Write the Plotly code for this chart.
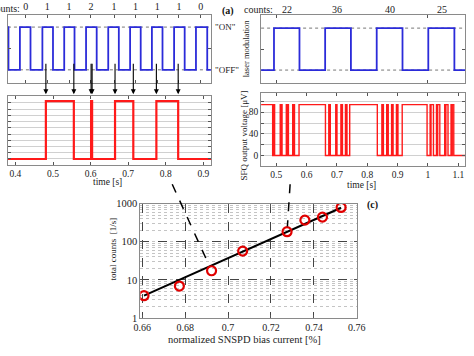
import math
import plotly.graph_objects as go

W, H = 474, 356
FONT = "Liberation Serif"

# ---------------- data ----------------
# (a) left: laser gating wave (top) and SFQ toggle output (bottom)
tl_rise = [0.3530, 0.4119, 0.4717, 0.5298, 0.5879, 0.6469, 0.7051, 0.7631, 0.8221, 0.8803]
tl_fall = [0.3815, 0.4401, 0.4999, 0.5572, 0.6162, 0.6751, 0.7333, 0.7913, 0.8503, 0.9103]
tl_count_t = [0.4272, 0.4846, 0.5426, 0.6008, 0.6624, 0.7195, 0.7776, 0.8349, 0.8931]
tl_counts = ["0", "1", "1", "2", "1", "1", "1", "1", "0"]

bl_edges = [0.4810, 0.5554, 0.6013, 0.6040, 0.6650, 0.7136, 0.7750, 0.8330]
bl_levels = [0, 93]

# (a) right: laser modulation (top) and SFQ output voltage (bottom)
tr_rise = [0.4924, 0.6610, 0.8310, 1.0010]
tr_fall = [0.5764, 0.7460, 0.9160, 1.0870]
tr_count_t = [0.535, 0.699, 0.874, 1.046]
tr_counts = ["22", "36", "40", "25"]

br_lows = [
    (0.488, 0.4925), (0.4945, 0.513), (0.515, 0.517), (0.519, 0.533), (0.5345, 0.536),
    (0.540, 0.554), (0.556, 0.558), (0.560, 0.575),
    (0.662, 0.673), (0.675, 0.676), (0.678, 0.696), (0.698, 0.699), (0.700, 0.713),
    (0.715, 0.716), (0.718, 0.728), (0.730, 0.731), (0.733, 0.742),
    (0.833, 0.848), (0.850, 0.851), (0.853, 0.864), (0.866, 0.867), (0.869, 0.880),
    (0.882, 0.883), (0.885, 0.896), (0.898, 0.899), (0.901, 0.915),
    (0.997, 1.007), (1.009, 1.010), (1.018, 1.028), (1.031, 1.032), (1.039, 1.055),
    (1.058, 1.059), (1.066, 1.076), (1.079, 1.080), (1.085, 1.125),
]
br_levels = [0, 94]

# (c) total counts vs bias
bias = [0.6608, 0.6773, 0.6923, 0.7068, 0.7275, 0.7358, 0.7440, 0.7527]
total_counts = [3.85, 6.9, 17.4, 57, 184, 370, 443, 795]
fit_bias = [0.6608, 0.7527]
fit_counts = [3.85, 780]


# ---------------- helpers ----------------
def square(rises, falls, t0, t1, lo, hi):
    ev = sorted([(t, hi) for t in rises] + [(t, lo) for t in falls])
    level = lo if ev[0][1] == hi else hi
    xs, ys = [t0], [level]
    for t, new in ev:
        xs += [t, t]
        ys += [level, new]
        level = new
    xs.append(t1)
    ys.append(level)
    return xs, ys


def toggles(edges, t0, t1, lo, hi):
    level = lo
    xs, ys = [t0], [level]
    for t in edges:
        new = hi if level == lo else lo
        xs += [t, t]
        ys += [level, new]
        level = new
    xs.append(t1)
    ys.append(level)
    return xs, ys


def lows(intervals, t0, t1, lo, hi):
    xs, ys = [t0], [hi]
    for a, b in intervals:
        xs += [a, a, b, b]
        ys += [hi, lo, lo, hi]
    xs.append(t1)
    ys.append(hi)
    return xs, ys


px = lambda v: v / W
py = lambda v: 1 - v / H

BLUE = "#2b2bd9"
RED = "#ff1a1a"
FRAME = "#8a8a8a"

fig = go.Figure()

x1, y1 = square(tl_rise, tl_fall, 0.37, 0.93, 0, 1)
fig.add_trace(go.Scatter(x=x1, y=y1, mode="lines", line=dict(color=BLUE, width=1.8),
                         xaxis="x", yaxis="y"))
x2, y2 = toggles(bl_edges, 0.37, 0.93, bl_levels[0], bl_levels[1])
fig.add_trace(go.Scatter(x=x2, y=y2, mode="lines", line=dict(color=RED, width=2.2),
                         xaxis="x2", yaxis="y2"))
x3, y3 = square(tr_rise, tr_fall, 0.44, 1.13, 0, 1)
fig.add_trace(go.Scatter(x=x3, y=y3, mode="lines", line=dict(color=BLUE, width=1.8),
                         xaxis="x3", yaxis="y3"))
x4, y4 = lows(br_lows, 0.44, 1.13, br_levels[0], br_levels[1])
fig.add_trace(go.Scatter(x=x4, y=y4, mode="lines", line=dict(color=RED, width=1.4),
                         xaxis="x4", yaxis="y4"))
fig.add_trace(go.Scatter(x=fit_bias, y=fit_counts, mode="lines", line=dict(color="black", width=2),
                         xaxis="x5", yaxis="y5"))
fig.add_trace(go.Scatter(x=bias, y=total_counts, mode="markers",
                         marker=dict(symbol="circle-open", size=9, color="#e00000", line=dict(width=2.2)),
                         xaxis="x5", yaxis="y5"))

tick_font = dict(family=FONT, size=9.5, color="#222")
common_ax = dict(showline=True, linecolor=FRAME, linewidth=1, mirror=True, zeroline=False,
                 ticks="inside", ticklen=3, tickcolor="#555", tickfont=tick_font)

dom_left = [0.002, px(211)]
dom_right = [px(263), 1.0]
dom_top = [py(81), py(10)]
dom_c_x = [px(138), px(362)]
dom_c_y = [py(323), py(205)]
rng_c_x = [0.6591, 0.76]

fig.update_layout(
    width=W, height=H, margin=dict(l=0, r=0, t=0, b=0),
    paper_bgcolor="white", plot_bgcolor="white", showlegend=False,
    font=dict(family=FONT, size=10, color="#222"),
    xaxis=dict(common_ax, domain=dom_left, range=[0.38, 0.92], side="top", anchor="y",
               tickvals=tl_count_t, ticktext=tl_counts, showgrid=False, mirror="ticks",
               tickfont=dict(family=FONT, size=10, color="#222")),
    yaxis=dict(common_ax, domain=dom_top, range=[-0.32, 1.29], anchor="x",
               tickvals=[0.5], showticklabels=False, showgrid=False, mirror="ticks"),
    xaxis2=dict(common_ax, domain=dom_left, range=[0.38, 0.92], anchor="y2",
                tick0=0.4, dtick=0.1, showgrid=False, mirror="ticks"),
    yaxis2=dict(common_ax, domain=[py(165), py(94)], range=[-9.5, 101], anchor="x2",
                tick0=0, dtick=10, showticklabels=False, showgrid=True, gridcolor="#d0d0d0",
                gridwidth=1, mirror="ticks"),
    xaxis3=dict(common_ax, domain=dom_right, range=[0.45, 1.122], anchor="y3",
                tickvals=[0.5, 1.0], showticklabels=False, showgrid=False, mirror="ticks"),
    yaxis3=dict(common_ax, domain=dom_top, range=[-0.32, 1.32], anchor="x3",
                tickvals=[0.5], showticklabels=False, showgrid=False, mirror="ticks"),
    xaxis4=dict(common_ax, domain=dom_right, range=[0.45, 1.122], anchor="y4",
                tick0=0.5, dtick=0.1, showgrid=False, mirror="ticks"),
    yaxis4=dict(common_ax, domain=[py(166), py(91)], range=[-19, 115], anchor="x4",
                tickvals=[0, 20, 40, 60, 80, 100], ticktext=["0", "", "40", "", "80", ""],
                showgrid=True, gridcolor="#d0d0d0", mirror="ticks"),
    xaxis5=dict(common_ax, domain=dom_c_x, range=rng_c_x, anchor="y5",
                tick0=0.66, dtick=0.02, mirror="ticks",
                tickfont=dict(family=FONT, size=10, color="#222"),
                showgrid=True, gridcolor="#444", griddash="dash", gridwidth=1),
    yaxis5=dict(common_ax, domain=dom_c_y, type="log", range=[0, 3], anchor="x5",
                tickvals=[1, 10, 100, 1000], ticktext=["1", "10", "100", "1000"], mirror="ticks",
                tickfont=dict(family=FONT, size=10.5, color="#222"),
                showgrid=True, gridcolor="#444", griddash="dash", gridwidth=1,
                minor=dict(dtick="D1", showgrid=True, gridcolor="#c4c4c4", griddash="dot",
                           ticks="")),
)


def label(x, y, text, size=10, xref="paper", yref="paper", xanchor="center", angle=0, color="#222"):
    return dict(x=x, y=y, xref=xref, yref=yref, text=text, showarrow=False,
                xanchor=xanchor, yanchor="middle", textangle=angle,
                font=dict(family=FONT, size=size, color=color))


ann = []
ann.append(label(px(16), py(4), "counts:", xanchor="right"))
ann.append(label(px(277), py(5), "counts:", xanchor="right"))
for t, c in zip(tr_count_t, tr_counts):
    ann.append(label(t, py(5), c, xref="x3"))
ann.append(label(px(229), py(6), "<b>(a)</b>", color="#111"))
ann.append(label(px(378), py(206), "<b>(c)</b>", color="#111"))
ann.append(label(px(213), 1, '"ON"', size=9, yref="y", xanchor="left"))
ann.append(label(px(213), 0, '"OFF"', size=9, yref="y", xanchor="left"))
ann.append(label(px(247), py(45), "laser modulation", size=8.5, angle=-90))
ann.append(label(px(245), py(135), "SFQ output voltage [μV]", size=9, angle=-90))
ann.append(label(px(110), py(252), "total counts  [1/s]", size=9, angle=-90))
ann.append(label(px(104), py(183), "time [s]", size=9.5))
ann.append(label(px(367), py(186), "time [s]", size=9.5))
ann.append(label(px(246), py(345), "normalized SNSPD bias current [%]", size=10.5))
for t in bl_edges:
    ann.append(dict(x=t, y=py(92), xref="x2", yref="paper", text="", showarrow=True,
                    ax=0, ay=-32, arrowhead=2, arrowsize=0.9, arrowwidth=1.1, arrowcolor="black"))
fig.update_layout(annotations=ann)


def c_paper(xv, yv):
    fx = dom_c_x[0] + (xv - rng_c_x[0]) / (rng_c_x[1] - rng_c_x[0]) * (dom_c_x[1] - dom_c_x[0])
    fy = dom_c_y[0] + math.log10(yv) / 3 * (dom_c_y[1] - dom_c_y[0])
    return fx, fy


shapes = []
for (sx, sy), idx in [((171, 185), 2), ((293, 185), 4)]:
    ex, ey = c_paper(bias[idx], total_counts[idx])
    ex_px, ey_px = ex * W, (1 - ey) * H
    dx, dy = ex_px - sx, ey_px - sy
    d = math.hypot(dx, dy)
    ex_px -= dx / d * 5.5
    ey_px -= dy / d * 5.5
    shapes.append(dict(type="line", xref="paper", yref="paper", x0=px(sx), y0=py(sy),
                       x1=px(ex_px), y1=py(ey_px), line=dict(color="black", width=1.5, dash="dash")))
for yr in ["y", "y3"]:
    for lv in [0, 1]:
        shapes.append(dict(type="line", xref=("x domain" if yr == "y" else "x3 domain"), yref=yr,
                           x0=0, x1=1, y0=lv, y1=lv, layer="below",
                           line=dict(color="#777", width=1, dash="dot")))
fig.update_layout(shapes=shapes)

fig.write_html("out.html", config={"displayModeBar": False},
               post_script="document.body.style.margin='0';document.body.style.overflow='hidden';")
